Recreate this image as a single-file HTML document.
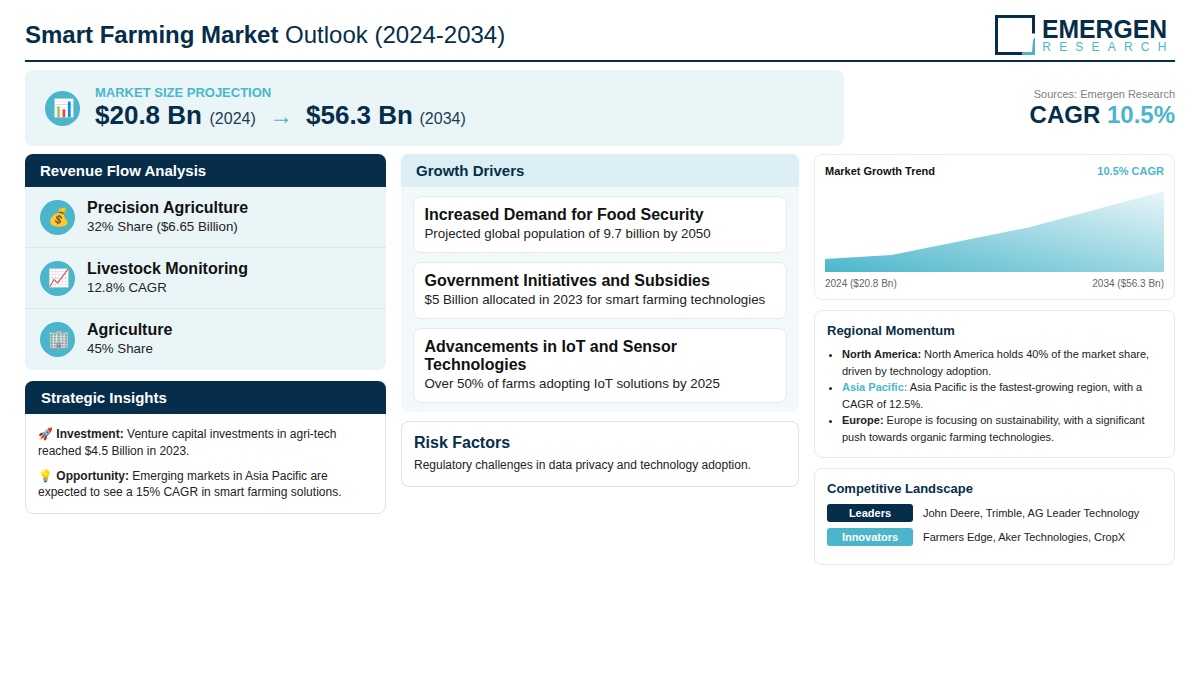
<!DOCTYPE html>
<html><head><meta charset="utf-8">
<style>
*{box-sizing:border-box;margin:0;padding:0}
html,body{width:1200px;height:700px;background:#fff;overflow:hidden}
body{font-family:"Liberation Sans",Arial,sans-serif;color:#222;position:relative}
.navy{color:#062d49}
#hdr{position:absolute;left:25px;top:0;width:1150px;height:62px;border-bottom:2px solid #062d49}
#title{position:absolute;left:0;top:21px;font-size:24px;line-height:28px;color:#062d49;white-space:nowrap}
#title b{font-weight:700}
#logo{position:absolute;right:10px;top:14px;width:172px;height:42px}
#market{position:absolute;left:25px;top:70px;width:819px;height:76px;background:#eaf5f8;border-radius:8px}
.ic{position:absolute;width:35px;height:35px;border-radius:50%;background:#4bb6cb;text-align:center;font-family:"Noto Color Emoji",sans-serif;font-size:17.5px;line-height:34px;text-indent:3px}
#msp{position:absolute;left:70px;top:15px;font-size:13px;font-weight:700;color:#4bb6cb;line-height:16px;white-space:nowrap}
#mval>*{position:absolute;top:30px;white-space:nowrap;color:#062d49;line-height:30px}
#mval b{font-size:26px;font-weight:700}
#mval small{font-size:16px;top:34px;line-height:30px;color:#1b3a52}
#mval .arr{color:#4bb6cb;font-size:24px;top:30px}
#cagr{position:absolute;right:25px;top:87px;text-align:right}
#cagr .src{font-size:11px;color:#808080;line-height:14px}
#cagr .big{font-size:24px;font-weight:700;color:#062d49;line-height:28px}
#cagr .big span{color:#4bb6cb}
.card{position:absolute;border-radius:8px;overflow:hidden}
.hd{height:33px;line-height:34px;padding-left:15px;font-size:15px;font-weight:700}
.dark .hd{background:#062d49;color:#fff}
#rev{left:25px;top:154px;width:361px;height:216px;background:#eaf5f8}
.rrow{position:relative;height:61px;border-bottom:1px solid #dae6ea}
.rrow:last-child{border-bottom:none;height:60px}
.rrow .ic{left:15px;top:13px}
.rrow .t{position:absolute;left:62px;top:11.2px;font-size:16px;font-weight:700;color:#111;line-height:20px;white-space:nowrap}
.rrow .s{position:absolute;left:62px;top:32px;font-size:13.3px;color:#222;line-height:16px;white-space:nowrap}
#strat{left:25px;top:381px;width:361px;height:133px;border:1px solid #e0e2e3;background:#fff;overflow:visible;padding-top:32px}
#strat .hd{position:absolute;left:-1px;right:-1px;top:-1px;height:33px;line-height:34px;padding-left:16px;border-radius:8px 8px 0 0}
#strat p{font-size:12px;line-height:16.5px;color:#222;padding:0 12px}
#gd{left:401px;top:154px;width:398px;height:258px;background:#f3f9fa}
#gd .hd{background:#dbeff4;color:#062d49}
.gitem{position:absolute;left:12px;width:374px;background:#fff;border:1px solid #e2ebee;border-radius:8px;padding:9px 10.5px}
.gitem .t{font-size:16px;font-weight:700;color:#111;line-height:18px}
.gitem .s{font-size:13.3px;color:#222;line-height:17px;margin-top:0.7px}
#risk{left:401px;top:421px;width:398px;height:66px;border:1px solid #e0e2e3;background:#fff}
#risk .t{position:absolute;left:12px;top:12px;font-size:16px;font-weight:700;color:#062d49}
#risk .s{position:absolute;left:12px;top:36px;font-size:12px;color:#222}
.wc{position:absolute;left:814px;width:361px;border:1px solid #e6e8e9;border-radius:8px;background:#fff}
#trend{top:154px;height:146px;border-color:#ececec}
#reg{top:310px;height:148px}
#comp{top:468px;height:97px}
.wc h4{font-size:13px;font-weight:700;color:#062d49;line-height:16px;white-space:nowrap}
#reg ul{position:absolute;left:27px;top:35px;width:320px;font-size:11px;line-height:16.5px;color:#222}
#reg li{margin:0}
.pill{position:absolute;left:12px;width:86px;height:18px;border-radius:3px;color:#fff;font-size:11px;font-weight:700;text-align:center;line-height:18px}
.pn{position:absolute;left:108px;font-size:11px;line-height:18px;color:#222;white-space:nowrap}
</style></head><body>
<div id="hdr">
  <div id="title"><b>Smart Farming Market</b> Outlook (2024-2034)</div>
</div>
<svg id="logo" style="position:absolute;left:990px;top:10px;width:185px;height:50px" viewBox="0 0 185 50">
  <path d="M5 5 H45 V23.6 H42 V8 H8 V42 H32 V45 H5 Z" fill="#062d49"/>
  <path d="M45 27 V45 H32 V42 H42 L43 30 Z" fill="#4bb6cb"/>
  <text x="52" y="28" font-family="Liberation Sans" font-weight="700" font-size="25" fill="#062d49" textLength="125" lengthAdjust="spacingAndGlyphs">EMERGEN</text>
  <text x="52.3" y="40.5" font-family="Liberation Sans" font-size="12" fill="#4bb6cb" textLength="124" lengthAdjust="spacing">RESEARCH</text>
</svg>
<div id="market">
  <div class="ic" style="left:20px;top:21px">📊</div>
  <div id="msp">MARKET SIZE PROJECTION</div>
  <div id="mval"><b style="left:70px">$20.8 Bn</b><small style="left:184.5px">(2024)</small><span class="arr" style="left:244px;top:31px">→</span><b style="left:281px">$56.3 Bn</b><small style="left:394.5px">(2034)</small></div>
</div>
<div id="cagr"><div class="src">Sources: Emergen Research</div><div class="big">CAGR <span>10.5%</span></div></div>

<div class="card dark" id="rev">
  <div class="hd">Revenue Flow Analysis</div>
  <div class="rrow"><div class="ic">💰</div><div class="t">Precision Agriculture</div><div class="s">32% Share ($6.65 Billion)</div></div>
  <div class="rrow"><div class="ic">📈</div><div class="t">Livestock Monitoring</div><div class="s">12.8% CAGR</div></div>
  <div class="rrow"><div class="ic">🏢</div><div class="t">Agriculture</div><div class="s">45% Share</div></div>
</div>

<div class="card dark" id="strat">
  <div class="hd">Strategic Insights</div>
  <p style="margin-top:12.35px">🚀 <b>Investment:</b> Venture capital investments in agri-tech reached $4.5 Billion in 2023.</p>
  <p style="margin-top:8.6px">💡 <b>Opportunity:</b> Emerging markets in Asia Pacific are expected to see a 15% CAGR in smart farming solutions.</p>
</div>

<div class="card" id="gd">
  <div class="hd">Growth Drivers</div>
  <div class="gitem" style="top:42px;height:57px"><div class="t">Increased Demand for Food Security</div><div class="s">Projected global population of 9.7 billion by 2050</div></div>
  <div class="gitem" style="top:108px;height:57px"><div class="t">Government Initiatives and Subsidies</div><div class="s">$5 Billion allocated in 2023 for smart farming technologies</div></div>
  <div class="gitem" style="top:174px;height:75px"><div class="t">Advancements in IoT and Sensor Technologies</div><div class="s">Over 50% of farms adopting IoT solutions by 2025</div></div>
</div>

<div class="card" id="risk">
  <div class="t">Risk Factors</div>
  <div class="s">Regulatory challenges in data privacy and technology adoption.</div>
</div>

<div class="wc" id="trend">
  <div style="position:absolute;left:10px;top:10px;font-size:11px;font-weight:700;color:#111">Market Growth Trend</div>
  <div style="position:absolute;right:10px;top:10px;font-size:11px;font-weight:700;color:#4bb6cb">10.5% CAGR</div>
  <svg style="position:absolute;left:10px;top:36px" width="339" height="82" viewBox="0 0 339 82">
    <defs><linearGradient id="g1" x1="0" y1="1" x2="1" y2="0">
      <stop offset="0" stop-color="#4bb6cb"/><stop offset="1" stop-color="#4bb6cb" stop-opacity="0.12"/></linearGradient></defs>
    <path d="M0 68 L66.5 64 L203.5 36.5 L339 0.3 L339 81 L0 81 Z" fill="url(#g1)"/>
  </svg>
  <div style="position:absolute;left:10px;top:123px;font-size:10px;color:#666">2024 ($20.8 Bn)</div>
  <div style="position:absolute;right:10px;top:123px;font-size:10px;color:#666">2034 ($56.3 Bn)</div>
</div>
<div class="wc" id="reg">
  <h4 style="position:absolute;left:12px;top:12px">Regional Momentum</h4>
  <ul>
    <li><b>North America:</b> North America holds 40% of the market share, driven by technology adoption.</li>
    <li><b style="color:#4bb6cb">Asia Pacific:</b> Asia Pacific is the fastest-growing region, with a CAGR of 12.5%.</li>
    <li><b>Europe:</b> Europe is focusing on sustainability, with a significant push towards organic farming technologies.</li>
  </ul>
</div>
<div class="wc" id="comp">
  <h4 style="position:absolute;left:12px;top:12px">Competitive Landscape</h4>
  <div class="pill" style="top:35px;background:#062d49">Leaders</div><div class="pn" style="top:35px">John Deere, Trimble, AG Leader Technology</div>
  <div class="pill" style="top:59px;background:#4bb6cb">Innovators</div><div class="pn" style="top:59px">Farmers Edge, Aker Technologies, CropX</div>
</div>
</body></html>
